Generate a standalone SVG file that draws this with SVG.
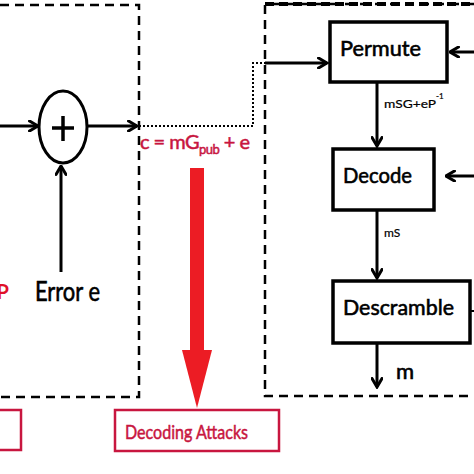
<svg xmlns="http://www.w3.org/2000/svg" width="474" height="474" viewBox="0 0 474 474">
<defs>
<marker id="ah" markerWidth="12" markerHeight="12" viewBox="0 0 12 12" refX="10.5" refY="6" orient="auto" markerUnits="userSpaceOnUse">
<polyline points="2,1 10.5,6 2,11" fill="none" stroke="#000" stroke-width="3" stroke-linecap="round" stroke-linejoin="miter"/>
</marker>
<style>
.dash{fill:none;stroke:#000;stroke-width:2.5;stroke-dasharray:9 6}
.box{fill:#fff;stroke:#000;stroke-width:3.5}
.ln{fill:none;stroke:#000;stroke-width:3;marker-end:url(#ah)}
.t{font-family:Lato,"Liberation Sans",sans-serif;fill:#000;stroke:#000;stroke-width:0.6}
.r{font-family:Lato,"Liberation Sans",sans-serif;fill:#c8163f;stroke:#c8163f;stroke-width:0.5}
.rbox{fill:#fff;stroke:#c8163f;stroke-width:2.5}
</style>
</defs>
<rect width="474" height="474" fill="#fff"/>
<g id="left-region">
<polyline class="dash" points="0,5 139,5 139,397 0,397"/>
</g>
<g id="right-region">
<polyline class="dash" points="474,4 265,4 265,396 474,396"/>
<line x1="265" y1="4" x2="474" y2="4" stroke="#000" stroke-width="4" stroke-dasharray="9 5"/>
</g>
<g id="connectors">
<line class="ln" x1="0" y1="126" x2="38" y2="126"/>
<line class="ln" x1="87" y1="126" x2="137" y2="126"/>
<line class="ln" x1="61" y1="272" x2="61" y2="166"/>
<polyline points="139,126 253,126 253,63 265,63" fill="none" stroke="#000" stroke-width="2" stroke-dasharray="2 2"/>
<line class="ln" x1="265" y1="63" x2="327" y2="63"/>
<line class="ln" x1="474" y1="52" x2="450" y2="52"/>
<line class="ln" x1="377" y1="82" x2="377" y2="146"/>
<line class="ln" x1="474" y1="176" x2="446" y2="176"/>
<line class="ln" x1="377" y1="210" x2="377" y2="278"/>
<line class="ln" x1="377" y1="343" x2="377" y2="387"/>
<line x1="470" y1="311" x2="474" y2="311" stroke="#000" stroke-width="2"/>
<text class="t" x="384" y="108" font-size="12" style="stroke-width:0.2" textLength="52" lengthAdjust="spacingAndGlyphs">mSG+eP</text>
<text class="t" x="436" y="99" font-size="8" style="stroke-width:0.2">-1</text>
<text class="t" x="384" y="237" font-size="12" style="stroke-width:0.2">mS</text>
<text class="t" x="396" y="379" font-size="22">m</text>
</g>
<g id="adder">
<ellipse cx="63" cy="127" rx="24" ry="36" fill="#fff" stroke="#000" stroke-width="3"/>
<line x1="52" y1="128" x2="74" y2="128" stroke="#000" stroke-width="3.5"/>
<line x1="63" y1="116" x2="63" y2="141" stroke="#000" stroke-width="3.5"/>
</g>
<g id="error">
<text class="t" x="35" y="301" font-size="26" textLength="65" lengthAdjust="spacingAndGlyphs">Error e</text>
</g>
<g id="p-label">
<text class="r" x="9" y="299" font-size="20" font-weight="bold" text-anchor="end" style="fill:#e0102a;stroke:none">P</text>
</g>
<g id="ciphertext">
<text class="r" x="140" y="149" font-size="20" textLength="110">c = mG<tspan font-size="13" dy="5">pub</tspan><tspan dy="-5"> + e</tspan></text>
</g>
<g id="attack-arrow">
<rect x="190" y="168" width="14" height="184" fill="#ec1c24"/>
<polygon points="182,350 212,350 197,408" fill="#ec1c24"/>
</g>
<g id="decoding-attacks">
<rect class="rbox" x="115" y="410" width="164" height="41"/>
<text class="r" x="125" y="439" font-size="20" textLength="123" lengthAdjust="spacingAndGlyphs">Decoding Attacks</text>
</g>
<g id="left-red-box">
<rect class="rbox" x="-10" y="410" width="31" height="40"/>
</g>
<g id="permute">
<rect class="box" x="330" y="22" width="117" height="60"/>
<text class="t" x="380.5" y="56" font-size="22" text-anchor="middle" textLength="81" lengthAdjust="spacingAndGlyphs">Permute</text>
</g>
<g id="decode">
<rect class="box" x="333" y="149" width="101" height="61"/>
<text class="t" x="377.5" y="183" font-size="22" text-anchor="middle" textLength="69" lengthAdjust="spacingAndGlyphs">Decode</text>
</g>
<g id="descramble">
<rect class="box" x="333" y="281" width="137" height="62"/>
<text class="t" x="398.5" y="315" font-size="22" text-anchor="middle" textLength="111" lengthAdjust="spacingAndGlyphs">Descramble</text>
</g>
</svg>
